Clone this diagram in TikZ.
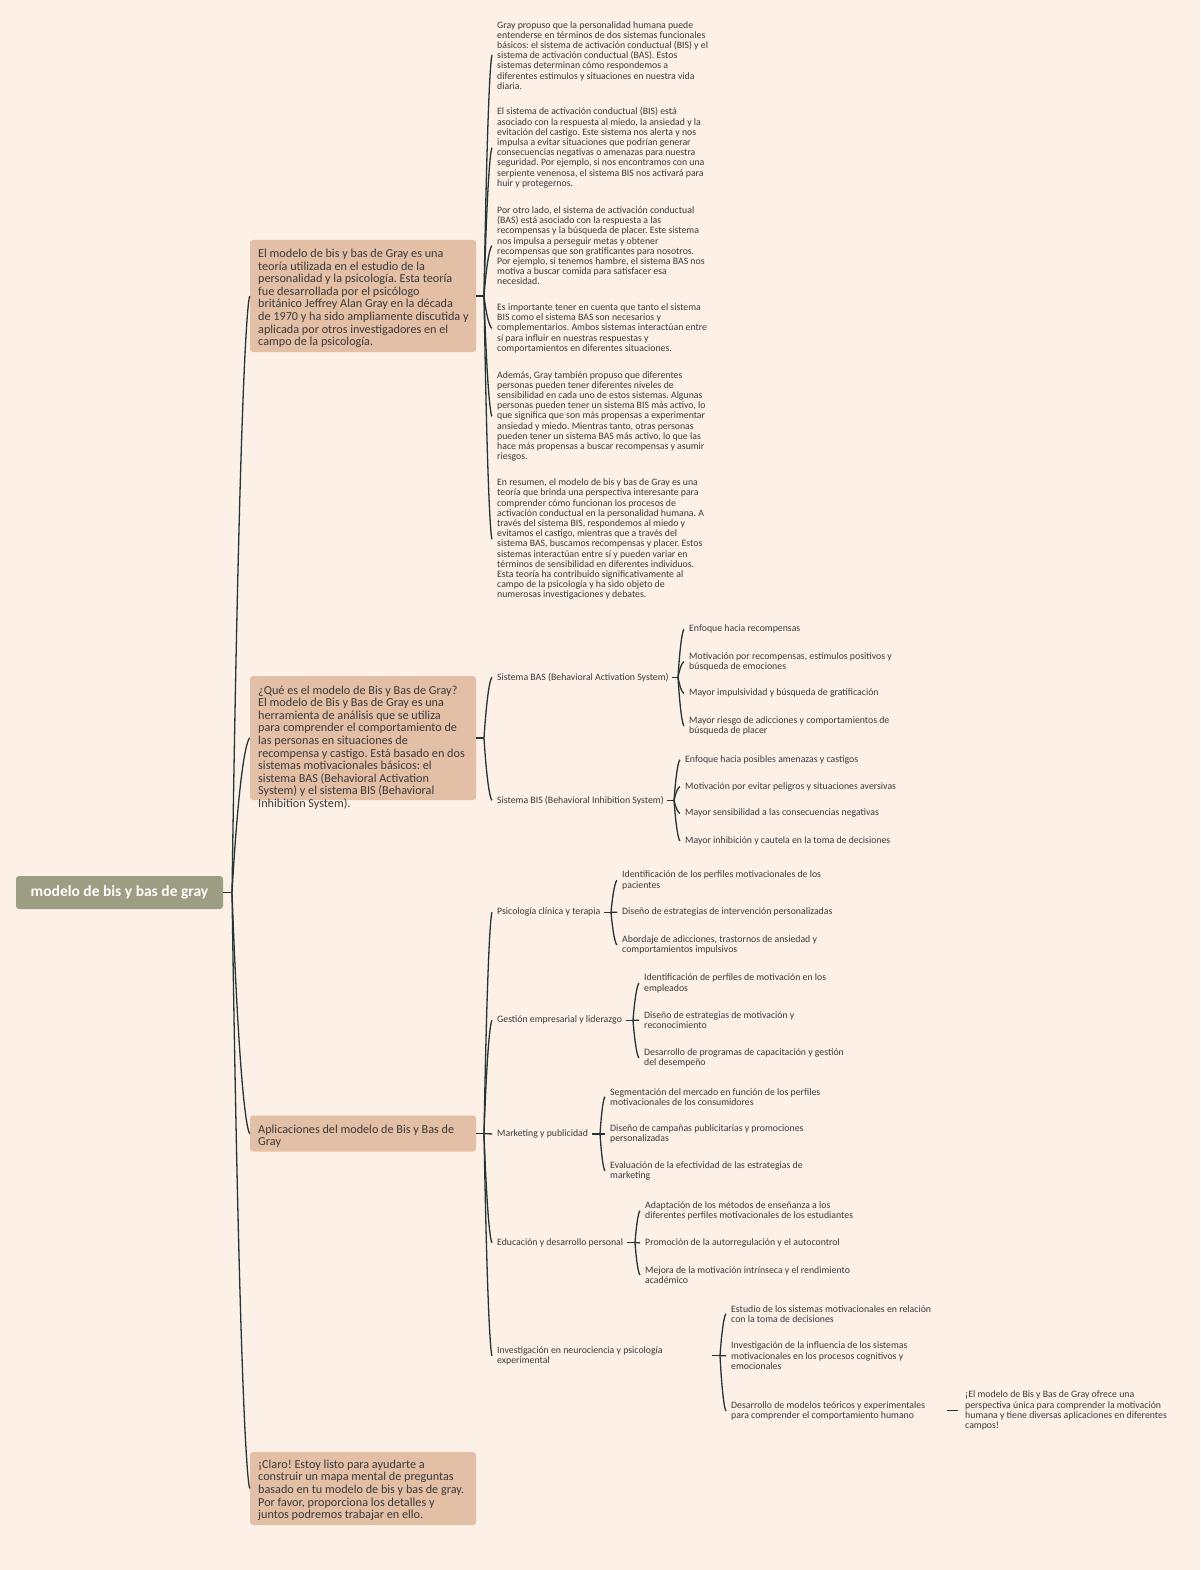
\documentclass[tikz,border=0pt]{standalone}
\usepackage{fontspec}
\setmainfont{Carlito}
\usetikzlibrary{calc}
\definecolor{bgc}{HTML}{FDF0E6}
\definecolor{rootc}{HTML}{9B9E82}
\definecolor{boxc}{HTML}{E3BFA6}
\definecolor{linec}{HTML}{233536}
\definecolor{txtc}{HTML}{3A3A3A}
\newcommand{\smallf}{\fontsize{9.8}{10.2}\selectfont\frenchspacing}
\newcommand{\boxf}{\fontsize{12.2}{12.6}\selectfont\frenchspacing}
\newcommand{\rootf}{\fontsize{15.5}{17}\selectfont\bfseries}
\newcommand{\bc}[2]{\path #2 coordinate (tmpE); \draw[conn] (#1) .. controls ($(#1 |- tmpE)!0.5!(tmpE)$) and (tmpE) .. (tmpE);}
\tikzset{
  rootbox/.style={fill=rootc, rounded corners=3pt, minimum width=207pt, minimum height=33pt, inner sep=0pt, text=white, font=\rootf},
  bbox/.style={fill=boxc, rounded corners=3pt, minimum width=226pt, inner sep=0pt},
  btxt/.style={anchor=west, inner sep=0pt, align=left, text=txtc, font=\boxf},
  stxt/.style={anchor=west, inner sep=0pt, align=left, text=txtc, font=\smallf},
  conn/.style={draw=linec, line width=1.3pt}
}
\begin{document}
\begin{tikzpicture}[x=1pt,y=-1pt]
\fill[bgc] (0,0) rectangle (1200,1570);
\useasboundingbox (0,0) rectangle (1200,1570);

% root
\node[rootbox] (root) at (119.5,892.5) {\raisebox{-1pt}{modelo de bis y bas de gray}};
\coordinate (root-o) at (232,892.5);

% level 1 boxes
\node[bbox, minimum height=112pt] (b1) at (363,296) {};
\node[btxt] (b1t) at (258,298.5) {El modelo de bis y bas de Gray es una\\teoría utilizada en el estudio de la\\personalidad y la psicología. Esta teoría\\fue desarrollada por el psicólogo\\británico Jeffrey Alan Gray en la década\\de 1970 y ha sido ampliamente discutida y\\aplicada por otros investigadores en el\\campo de la psicología.};

\node[bbox, minimum height=124pt] (b2) at (363,738) {};
\node[btxt] (b2t) at (258,747.5) {¿Qué es el modelo de Bis y Bas de Gray?\\El modelo de Bis y Bas de Gray es una\\herramienta de análisis que se utiliza\\para comprender el comportamiento de\\las personas en situaciones de\\recompensa y castigo. Está basado en dos\\sistemas motivacionales básicos: el\\sistema BAS (Behavioral Activation\\System) y el sistema BIS (Behavioral\\Inhibition System).};

\node[bbox, minimum height=36pt] (b3) at (363,1133.5) {};
\node[btxt] (b3t) at (258,1136.2) {Aplicaciones del modelo de Bis y Bas de\\Gray};

\node[bbox, minimum height=73pt] (b4) at (363,1488.5) {};
\node[btxt] (b4t) at (258,1490.3) {¡Claro! Estoy listo para ayudarte a\\construir un mapa mental de preguntas\\basado en tu modelo de bis y bas de gray.\\Por favor, proporciona los detalles y\\juntos podremos trabajar en ello.};

\draw[conn] (root.east) -- (root-o);
\bc{root-o}{(b1.west)}
\bc{root-o}{(b2.west)}
\bc{root-o}{(b3.west)}
\bc{root-o}{(b4.west)}

% box 1 children
\coordinate (b1-o) at (484,296);
\draw[conn] (b1.east) -- (b1-o);
\node[stxt] (t1) at (497,55.3) {Gray propuso que la personalidad humana puede\\entenderse en términos de dos sistemas funcionales\\básicos: el sistema de activación conductual (BIS) y el\\sistema de activación conductual (BAS). Estos\\sistemas determinan cómo respondemos a\\diferentes estímulos y situaciones en nuestra vida\\diaria.};
\node[stxt] (t2) at (497,147.8) {El sistema de activación conductual (BIS) está\\asociado con la respuesta al miedo, la ansiedad y la\\evitación del castigo. Este sistema nos alerta y nos\\impulsa a evitar situaciones que podrían generar\\consecuencias negativas o amenazas para nuestra\\seguridad. Por ejemplo, si nos encontramos con una\\serpiente venenosa, el sistema BIS nos activará para\\huir y protegernos.};
\node[stxt] (t3) at (497,245.8) {Por otro lado, el sistema de activación conductual\\(BAS) está asociado con la respuesta a las\\recompensas y la búsqueda de placer. Este sistema\\nos impulsa a perseguir metas y obtener\\recompensas que son gratificantes para nosotros.\\Por ejemplo, si tenemos hambre, el sistema BAS nos\\motiva a buscar comida para satisfacer esa\\necesidad.};
\node[stxt] (t4) at (497,328.3) {Es importante tener en cuenta que tanto el sistema\\BIS como el sistema BAS son necesarios y\\complementarios. Ambos sistemas interactúan entre\\sí para influir en nuestras respuestas y\\comportamientos en diferentes situaciones.};
\node[stxt] (t5) at (497,416.3) {Además, Gray también propuso que diferentes\\personas pueden tener diferentes niveles de\\sensibilidad en cada uno de estos sistemas. Algunas\\personas pueden tener un sistema BIS más activo, lo\\que significa que son más propensas a experimentar\\ansiedad y miedo. Mientras tanto, otras personas\\pueden tener un sistema BAS más activo, lo que las\\hace más propensas a buscar recompensas y asumir\\riesgos.};
\node[stxt] (t6) at (497,539.3) {En resumen, el modelo de bis y bas de Gray es una\\teoría que brinda una perspectiva interesante para\\comprender cómo funcionan los procesos de\\activación conductual en la personalidad humana. A\\través del sistema BIS, respondemos al miedo y\\evitamos el castigo, mientras que a través del\\sistema BAS, buscamos recompensas y placer. Estos\\sistemas interactúan entre sí y pueden variar en\\términos de sensibilidad en diferentes individuos.\\Esta teoría ha contribuido significativamente al\\campo de la psicología y ha sido objeto de\\numerosas investigaciones y debates.};
\foreach \n in {t1,t2,t3,t4,t5,t6}{\bc{b1-o}{([xshift=-5pt]\n.west)}}

% box 2 children
\coordinate (b2-o) at (484,738);
\draw[conn] (b2.east) -- (b2-o);
\node[stxt] (bas) at (497,677.3) {Sistema BAS (Behavioral Activation System)};
\node[stxt] (bis) at (497,800.3) {Sistema BIS (Behavioral Inhibition System)};
\bc{b2-o}{([xshift=-5pt]bas.west)}
\bc{b2-o}{([xshift=-5pt]bis.west)}

\coordinate (bas-o) at (678,677.3);
\draw[conn] ([xshift=3pt]bas.east) -- (bas-o);
\node[stxt] (bas1) at (689,629.3) {Enfoque hacia recompensas};
\node[stxt] (bas2) at (689,661.8) {Motivación por recompensas, estímulos positivos y\\búsqueda de emociones};
\node[stxt] (bas3) at (689,693.3) {Mayor impulsividad y búsqueda de gratificación};
\node[stxt] (bas4) at (689,725.8) {Mayor riesgo de adicciones y comportamientos de\\búsqueda de placer};
\foreach \n in {bas1,bas2,bas3,bas4}{\bc{bas-o}{([xshift=-5pt]\n.west)}}

\coordinate (bis-o) at (674,800.3);
\draw[conn] ([xshift=3pt]bis.east) -- (bis-o);
\node[stxt] (bis1) at (685,759.8) {Enfoque hacia posibles amenazas y castigos};
\node[stxt] (bis2) at (685,786.8) {Motivación por evitar peligros y situaciones aversivas};
\node[stxt] (bis3) at (685,813.3) {Mayor sensibilidad a las consecuencias negativas};
\node[stxt] (bis4) at (685,840.8) {Mayor inhibición y cautela en la toma de decisiones};
\foreach \n in {bis1,bis2,bis3,bis4}{\bc{bis-o}{([xshift=-5pt]\n.west)}}

% box 3 children
\coordinate (b3-o) at (484,1133.5);
\draw[conn] (b3.east) -- (b3-o);
\node[stxt] (psi) at (497,912.3) {Psicología clínica y terapia};
\node[stxt] (ges) at (497,1020.3) {Gestión empresarial y liderazgo};
\node[stxt] (mkt) at (497,1133.9) {Marketing y publicidad};
\node[stxt] (edu) at (497,1242.8) {Educación y desarrollo personal};
\node[stxt] (inv) at (497,1355.8) {Investigación en neurociencia y psicología\\experimental};
\foreach \n in {psi,ges,mkt,edu,inv}{\bc{b3-o}{([xshift=-5pt]\n.west)}}

\coordinate (psi-o) at (611,912.3);
\draw[conn] ([xshift=3pt]psi.east) -- (psi-o);
\node[stxt] (psi1) at (622,880.3) {Identificación de los perfiles motivacionales de los\\pacientes};
\node[stxt] (psi2) at (622,912.3) {Diseño de estrategias de intervención personalizadas};
\node[stxt] (psi3) at (622,944.8) {Abordaje de adicciones, trastornos de ansiedad y\\comportamientos impulsivos};
\foreach \n in {psi1,psi2,psi3}{\bc{psi-o}{([xshift=-5pt]\n.west)}}

\coordinate (ges-o) at (633,1020.3);
\draw[conn] ([xshift=4pt]ges.east) -- (ges-o);
\node[stxt] (ges1) at (644,983.3) {Identificación de perfiles de motivación en los\\empleados};
\node[stxt] (ges2) at (644,1020.3) {Diseño de estrategias de motivación y\\reconocimiento};
\node[stxt] (ges3) at (644,1057.8) {Desarrollo de programas de capacitación y gestión\\del desempeño};
\foreach \n in {ges1,ges2,ges3}{\bc{ges-o}{([xshift=-5pt]\n.west)}}

\coordinate (mkt-o) at (600,1133.9);
\draw[conn] ([xshift=4pt]mkt.east) -- (mkt-o);
\node[stxt] (mkt1) at (610,1096.8) {Segmentación del mercado en función de los perfiles\\motivacionales de los consumidores};
\node[stxt] (mkt2) at (610,1133.9) {Diseño de campañas publicitarias y promociones\\personalizadas};
\node[stxt] (mkt3) at (610,1170.8) {Evaluación de la efectividad de las estrategias de\\marketing};
\foreach \n in {mkt1,mkt2,mkt3}{\bc{mkt-o}{([xshift=-5pt]\n.west)}}

\coordinate (edu-o) at (635,1242.8);
\draw[conn] ([xshift=4pt]edu.east) -- (edu-o);
\node[stxt] (edu1) at (645,1210.8) {Adaptación de los métodos de enseñanza a los\\diferentes perfiles motivacionales de los estudiantes};
\node[stxt] (edu2) at (645,1242.8) {Promoción de la autorregulación y el autocontrol};
\node[stxt] (edu3) at (645,1274.8) {Mejora de la motivación intrínseca y el rendimiento\\académico};
\foreach \n in {edu1,edu2,edu3}{\bc{edu-o}{([xshift=-5pt]\n.west)}}

\coordinate (inv-a) at (712,1355.8);
\coordinate (inv-o) at (720,1355.8);
\draw[conn] (inv-a) -- (inv-o);
\node[stxt] (inv1) at (731,1313.8) {Estudio de los sistemas motivacionales en relación\\con la toma de decisiones};
\node[stxt] (inv2) at (731,1355.8) {Investigación de la influencia de los sistemas\\motivacionales en los procesos cognitivos y\\emocionales};
\node[stxt] (inv3) at (731,1410.8) {Desarrollo de modelos teóricos y experimentales\\para comprender el comportamiento humano};
\foreach \n in {inv1,inv2,inv3}{\bc{inv-o}{([xshift=-5pt]\n.west)}}

\coordinate (dm-a) at (947,1410.5);
\node[stxt] (fin) at (965,1410.5) {¡El modelo de Bis y Bas de Gray ofrece una\\perspectiva única para comprender la motivación\\humana y tiene diversas aplicaciones en diferentes\\campos!};
\draw[conn] (dm-a) -- ([xshift=-7pt]fin.west);
\end{tikzpicture}
\end{document}
